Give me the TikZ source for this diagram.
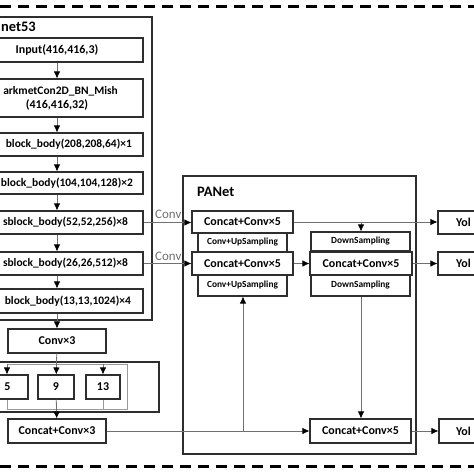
\documentclass[tikz,border=0pt]{standalone}
\usepackage{fontspec}
\setmainfont{Carlito}
\usetikzlibrary{arrows.meta}
\definecolor{boxc}{HTML}{2E2E2E}
\definecolor{linec}{HTML}{707070}
\definecolor{busc}{HTML}{9A9A9A}
\begin{document}
\begin{tikzpicture}[x=1bp,y=-1bp,
 box/.style={draw=boxc, line width=1.1bp, fill=white, inner sep=0pt},
 bigtxt/.style={font=\bfseries\fontsize{12}{13.5}\selectfont},
 fragtxt/.style={font=\bfseries\fontsize{11.5}{13}\selectfont},
 smtxt/.style={font=\bfseries\fontsize{9.4}{10.5}\selectfont},
 frame/.style={draw=boxc, line width=1.3bp, inner sep=0pt},
 conn/.style={draw=linec, line width=0.8bp},
 arr/.style={conn, -{Latex[length=7bp,width=6.5bp,color=black]}},
 bus/.style={draw=busc, line width=0.9bp},
 lbl/.style={inner sep=0pt, bigtxt},
 frag/.style={inner sep=0pt, fragtxt},
 ttl/.style={inner sep=0pt, font=\bfseries\fontsize{14.5}{16}\selectfont},
 convlbl/.style={inner sep=0pt, text=linec, font=\fontsize{13}{14}\selectfont},
 dashline/.style={line width=3bp, dash pattern=on 11bp off 7bp, draw=black}]
\clip (0,0) rectangle (474,474);
\fill[white] (0,0) rectangle (474,474);
% dashed separators
\draw[dashline] (0,7) -- (474,7);
\draw[dashline] (0,466) -- (474,466);
% frames
\node[frame, minimum width=157bp, minimum height=303bp] (csp) at (73.5,168.5) {};
\node[frame, minimum width=233bp, minimum height=278bp] (pan) at (299.5,315) {};
\node[frame, minimum width=164bp, minimum height=50bp] (spp) at (77,387) {};
\node[ttl, anchor=west] (csptitle) at (1,27) {net53};
\node[ttl, anchor=west] (pantitle) at (197,192) {PANet};
% backbone boxes
\node[box, minimum width=172bp, minimum height=24bp] (b1) at (57,50) {};
\node[box, minimum width=172bp, minimum height=38bp] (b2) at (57,98) {};
\node[box, minimum width=172bp, minimum height=23bp] (b3) at (57,144.5) {};
\node[box, minimum width=172bp, minimum height=22bp] (b4) at (57,183) {};
\node[box, minimum width=172bp, minimum height=23bp] (b5) at (57,222.5) {};
\node[box, minimum width=172bp, minimum height=23bp] (b6) at (57,263.5) {};
\node[box, minimum width=172bp, minimum height=24bp] (b7) at (57,301) {};
\node[lbl] (t1) at (57,50) {Input(416,416,3)};
\node[frag, anchor=east] (t2a) at (118,91) {arkmetCon2D\_BN\_Mish};
\node[lbl] (t2b) at (57,105) {(416,416,32)};
\node[frag, anchor=east] (t3) at (132,144.5) {block\_body(208,208,64)×1};
\node[frag, anchor=east] (t4) at (133,183) {block\_body(104,104,128)×2};
\node[frag, anchor=east] (t5) at (128,222.5) {sblock\_body(52,52,256)×8};
\node[frag, anchor=east] (t6) at (128,263.5) {sblock\_body(26,26,512)×8};
\node[frag, anchor=east] (t7) at (131,301) {block\_body(13,13,1024)×4};
% SPP part
\node[box, bigtxt, minimum width=98bp, minimum height=24bp] (c3) at (57,341) {Conv×3};
\node[box, minimum width=41bp, minimum height=24bp] (p5) at (7.5,387) {};
\node[lbl] (t5b) at (7.5,387) {5};
\node[box, bigtxt, minimum width=36bp, minimum height=24bp] (p9) at (56,387) {9};
\node[box, bigtxt, minimum width=34bp, minimum height=24bp] (p13) at (103,387) {13};
\node[box, bigtxt, minimum width=98bp, minimum height=24bp] (cc3) at (57,431) {Concat+Conv×3};
% PANet boxes
\node[box, smtxt, minimum width=89bp, minimum height=19bp] (up1) at (242.5,242.5) {Conv+UpSampling};
\node[box, smtxt, minimum width=89bp, minimum height=21bp] (up2) at (242.5,285.5) {Conv+UpSampling};
\node[box, bigtxt, minimum width=101bp, minimum height=22bp] (pc1) at (242.5,222) {Concat+Conv×5};
\node[box, bigtxt, minimum width=101bp, minimum height=23bp] (pc2) at (242.5,263.5) {Concat+Conv×5};
\node[box, smtxt, minimum width=99bp, minimum height=19bp] (dn1) at (360.5,241.5) {DownSampling};
\node[box, smtxt, minimum width=99bp, minimum height=21bp] (dn2) at (360.5,285.5) {DownSampling};
\node[box, bigtxt, minimum width=102bp, minimum height=23bp] (pc3) at (361,263.5) {Concat+Conv×5};
\node[box, bigtxt, minimum width=101bp, minimum height=24bp] (pc4) at (360.5,431) {Concat+Conv×5};
% YOLO heads
\node[box, minimum width=72bp, minimum height=23bp] (y1) at (474,222.5) {};
\node[box, minimum width=72bp, minimum height=23bp] (y2) at (474,263.5) {};
\node[box, minimum width=72bp, minimum height=24bp] (y3) at (475,431) {};
\node[lbl, anchor=west] (ty1) at (456,222.5) {Yol};
\node[lbl, anchor=west] (ty2) at (456,263.5) {Yol};
\node[lbl, anchor=west] (ty3) at (456,431) {Yol};
% coordinates
\coordinate (bl) at (7,364);
\coordinate (br) at (103,364);
\coordinate (bre) at (127,364);
\coordinate (dl) at (7,409);
\coordinate (dr) at (103,409);
\coordinate (dre) at (127,409);
\coordinate (split) at (361,222);
\coordinate (upfoot) at (243,431);
% backbone connectors
\draw[arr] (b1) -- (b2);
\draw[arr] (b2) -- (b3);
\draw[arr] (b3) -- (b4);
\draw[arr] (b4) -- (b5);
\draw[arr] (b5) -- (b6);
\draw[arr] (b6) -- (b7);
\draw[arr] (b7) -- (c3);
% SPP bus
\draw[bus] (bl) -- (bre) -- (dre) -- (dl);
\draw[arr] (bl) -- (p5.north -| bl);
\draw[arr] (br) -- (p13.north -| br);
\draw[arr] (c3) -- (p9);
\draw[bus] (p5.south -| dl) -- (dl);
\draw[bus] (p13.south -| dr) -- (dr);
\draw[arr] (p9) -- (cc3);
% to PANet
\draw[arr] (b5.east) -- (b5.east -| pc1.west);
\draw[arr] (b6.east) -- (b6.east -| pc2.west);
\node[convlbl, anchor=base west] (cv1) at (155,219) {Conv};
\node[convlbl, anchor=base west] (cv2) at (155,260) {Conv};
% PANet connectors
\draw[arr] (pc1.east) -- (pc1.east -| y1.west);
\draw[arr] (split) -- (dn1.north -| split);
\draw[arr] (pc2.east) -- (pc2.east -| pc3.west);
\draw[arr] (pc3.east) -- (pc3.east -| y2.west);
\draw[arr] (dn2.south -| split) -- (pc4.north -| split);
\draw[arr] (cc3.east) -- (pc4.west);
\draw[arr] (upfoot) -- (up2.south -| upfoot);
\draw[arr] (pc4.east) -- (pc4.east -| y3.west);
\end{tikzpicture}
\end{document}
